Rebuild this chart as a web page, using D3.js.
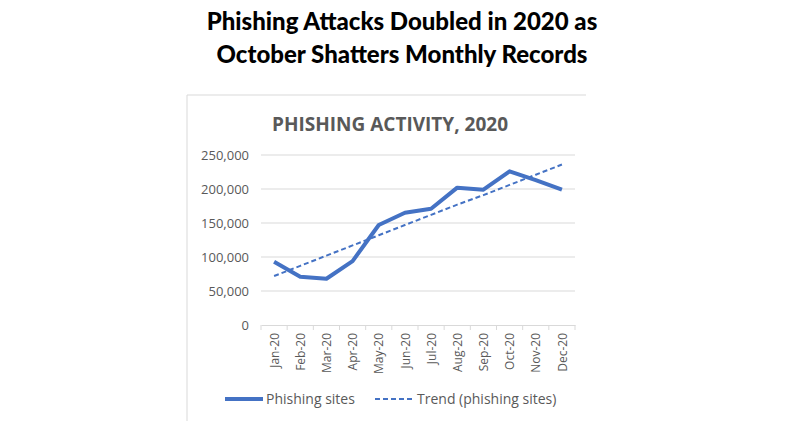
<!DOCTYPE html>
<html>
<head>
<meta charset="utf-8">
<script src="https://cdn.jsdelivr.net/npm/d3@7"></script>
<style>
  body { margin: 0; background: #fff; }
  svg text { font-family: "Open Sans", "Noto Sans", sans-serif; }
</style>
</head>
<body>
<svg id="chart" width="804" height="421"></svg>
<script>
const months = ["Jan-20","Feb-20","Mar-20","Apr-20","May-20","Jun-20","Jul-20","Aug-20","Sep-20","Oct-20","Nov-20","Dec-20"];
const phishing = [93000, 71000, 68000, 94000, 147000, 165000, 171000, 202000, 199000, 226000, 213000, 199000];
const trend = [72000, 87000, 102000, 117000, 132000, 147000, 162000, 177000, 191000, 206000, 221000, 236000];
const yTicks = [0, 50000, 100000, 150000, 200000, 250000];

const svg = d3.select("#chart");
const blue = "#4472c4", grey = "#595959";

// headline
svg.append("text").attr("x", 402).attr("y", 30).attr("text-anchor", "middle")
  .style("font-family", "Lato, sans-serif").style("font-weight", 900).style("font-size", "24px")
  .text("Phishing Attacks Doubled in 2020 as");
svg.append("text").attr("x", 402).attr("y", 63).attr("text-anchor", "middle")
  .style("font-family", "Lato, sans-serif").style("font-weight", 900).style("font-size", "24px")
  .text("October Shatters Monthly Records");

// frame of the embedded chart
svg.append("path").attr("d", "M187,421 V95 H586").attr("fill", "none").attr("stroke", "#d9d9d9");

svg.append("text").attr("x", 390).attr("y", 131).attr("text-anchor", "middle")
  .style("font-weight", 700).style("font-size", "19px").attr("fill", grey)
  .text("PHISHING ACTIVITY, 2020");

const x = d3.scalePoint().domain(months).range([261, 575]).padding(0.5);
const y = d3.scaleLinear().domain([0, 250000]).range([325, 155]);

// gridlines
svg.append("g").selectAll("line").data(yTicks.slice(1)).join("line")
  .attr("x1", 261).attr("x2", 575).attr("y1", d => y(d)).attr("y2", d => y(d))
  .attr("stroke", "#d9d9d9");

const yAxis = svg.append("g").attr("transform", "translate(261,0)")
  .call(d3.axisLeft(y).tickValues(yTicks).tickSize(0).tickPadding(12).tickFormat(d3.format(",")));
yAxis.select(".domain").remove();
yAxis.selectAll("text").attr("fill", grey).style("font-size", "13px");

const xAxis = svg.append("g").attr("transform", "translate(0,325)")
  .call(d3.axisBottom(x).tickSize(0).tickPadding(8));
xAxis.select(".domain").attr("stroke", "#d9d9d9");
const step = x.step();
xAxis.selectAll(".sep").data(d3.range(months.length + 1)).join("line")
  .attr("x1", i => 261 + i * step).attr("x2", i => 261 + i * step)
  .attr("y1", 0).attr("y2", 5).attr("stroke", "#d9d9d9");
xAxis.selectAll(".tick text").attr("fill", grey).style("font-size", "12px")
  .attr("text-anchor", "end").attr("transform", "rotate(-90)")
  .attr("dx", "-8").attr("dy", "0.35em").attr("y", 0).attr("x", 0);

const line = d3.line().x((d, i) => x(months[i])).y(d => y(d));
svg.append("path").datum(trend).attr("d", line).attr("fill", "none")
  .attr("stroke", blue).attr("stroke-width", 2).attr("stroke-dasharray", "5,3");
svg.append("path").datum(phishing).attr("d", line).attr("fill", "none")
  .attr("stroke", blue).attr("stroke-width", 4).attr("stroke-linejoin", "round");

// legend
const lg = svg.append("g");
lg.append("line").attr("x1", 225).attr("x2", 263).attr("y1", 399).attr("y2", 399)
  .attr("stroke", blue).attr("stroke-width", 4);
lg.append("text").attr("x", 266).attr("y", 404).attr("fill", grey).style("font-size", "14px").text("Phishing sites");
lg.append("line").attr("x1", 375).attr("x2", 413).attr("y1", 399).attr("y2", 399)
  .attr("stroke", blue).attr("stroke-width", 2).attr("stroke-dasharray", "5,3");
lg.append("text").attr("x", 417).attr("y", 404).attr("fill", grey).style("font-size", "14px").text("Trend (phishing sites)");
</script>
</body>
</html>
